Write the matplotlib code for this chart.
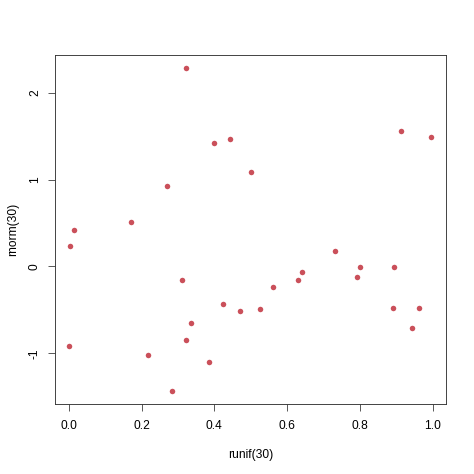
import matplotlib
matplotlib.use("Agg")
import matplotlib.pyplot as plt

x_vals = [0.322, 0.398, 0.442, 0.502, 0.269, 0.171, 0.0138, 0.0037,
          0.912, 0.996, 0.731, 0.801, 0.791, 0.894, 0.640, 0.629,
          0.561, 0.525, 0.891, 0.962, 0.943,
          0.310, 0.425, 0.471, 0.335, 0.322, 0.002, 0.219, 0.386, 0.283]
y_vals = [2.283, 1.420, 1.470, 1.090, 0.932, 0.511, 0.422, 0.238,
          1.558, 1.489, 0.177, -0.011, -0.119, -0.011, -0.065, -0.153,
          -0.241, -0.495, -0.479, -0.475, -0.705,
          -0.161, -0.429, -0.518, -0.648, -0.851, -0.913, -1.016, -1.097, -1.438]
x_ticks = [0.0, 0.2, 0.4, 0.6, 0.8, 1.0]
x_tick_labels = ["0.0", "0.2", "0.4", "0.6", "0.8", "1.0"]
y_ticks = [-1, 0, 1, 2]
y_tick_labels = ["-1", "0", "1", "2"]
x_label = "runif(30)"
y_label = "rnorm(30)"

plt.rcParams['font.family'] = ['Liberation Sans', 'DejaVu Sans']

fig = plt.figure(figsize=(474/72, 474/72), dpi=72)
W = H = 474
left, right, top, bottom = 55, 445.7, 55.3, 404.3
ax = fig.add_axes([left/W, 1 - bottom/H, (right-left)/W, (bottom-top)/H])

ax.plot(x_vals, y_vals, 'o', color='#CA505A', markersize=5.5, markeredgewidth=0)

xmin, xmax = min(x_vals), max(x_vals)
ymin, ymax = min(y_vals), max(y_vals)
dx = (xmax - xmin) * 0.04
dy = (ymax - ymin) * 0.04
ax.set_xlim(xmin - dx, xmax + dx)
ax.set_ylim(ymin - dy, ymax + dy)

ax.set_xticks(x_ticks)
ax.set_xticklabels(x_tick_labels, fontsize=12)
ax.set_yticks(y_ticks)
ax.set_yticklabels(y_tick_labels, fontsize=12, rotation=90, va='center')
ax.tick_params(direction='out', length=7, width=0.8, color='#333333')
ax.tick_params(axis='x', pad=9)
ax.tick_params(axis='y', pad=7)
for s in ax.spines.values():
    s.set_linewidth(0.9)
    s.set_color('#333333')

ax.set_xlabel(x_label, fontsize=12, labelpad=17)
ax.set_ylabel(y_label, fontsize=12, labelpad=10)

fig.savefig("out.png", dpi=72)
